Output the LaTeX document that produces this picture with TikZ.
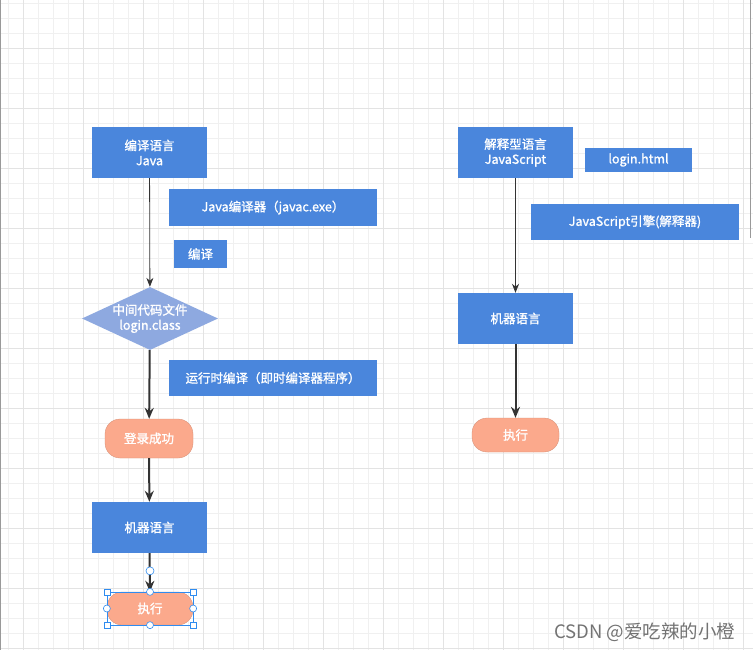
\documentclass[tikz,border=0pt]{standalone}
\usepackage{fontspec}
\setmainfont{Noto Sans CJK SC}
\newfontfamily\boxfont{Noto Sans CJK SC}[FakeBold=1.2]
\usetikzlibrary{shapes.geometric,arrows.meta,calc}
\definecolor{boxblue}{HTML}{4A86DC}
\definecolor{diablue}{HTML}{8EA9E0}
\definecolor{salmon}{HTML}{FBA98C}
\definecolor{handle}{HTML}{2F8CF0}
\tikzset{
  box/.style={fill=boxblue, text=white, minimum width=#1, inner sep=0pt, align=center, font=\boxfont\fontsize{12.5}{15}\selectfont},
  term/.style={fill=salmon, draw=salmon!85!black, line width=.3pt, text=white, rounded corners=15pt, inner sep=0pt, font=\boxfont\fontsize{12.5}{15}\selectfont},
  thin arrow/.style={-{Stealth[length=9pt,width=7pt]}, line width=.8pt, draw=black!80},
  thick arrow/.style={-{Stealth[length=11pt,width=9pt]}, line width=2pt, draw=black!80},
  hdl/.style={draw=handle, fill=white, line width=.6pt},
}
\begin{document}
\begin{tikzpicture}[x=1pt,y=-1pt]
\useasboundingbox (0,0) rectangle (753,650);
\fill[white] (0,0) rectangle (753,650);
\foreach \x in {8,23,...,753} \draw[black!6, line width=.6pt] (\x,0) -- (\x,650);
\foreach \y in {3,18,...,650} \draw[black!6, line width=.6pt] (0,\y) -- (753,\y);
\foreach \x in {23,83,...,753} \draw[black!11, line width=.6pt] (\x,0) -- (\x,650);
\foreach \y in {48,108,...,650} \draw[black!11, line width=.6pt] (0,\y) -- (753,\y);
\draw[black!40, line width=1pt] (0.5,0) -- (0.5,650);
\draw[black!40, line width=1pt] (750,0) -- (750,238);

% left column
\node[box=115pt, minimum height=51pt] (java) at (149.5,152.5) {编译语言\\Java};
\node[box=208pt, minimum height=37pt] (javac) at (273,207.5) {Java编译器（javac.exe）};
\node[box=53pt, minimum height=28pt] (compile) at (200.5,254) {编译};
\node[diamond, aspect=2.16, fill=diablue, text=white, minimum width=136pt, minimum height=63pt, inner xsep=-2pt, inner ysep=-6pt, align=center, font=\boxfont\fontsize{12.5}{15}\selectfont] (class) at (150,318.5) {中间代码文件\\login.class};
\node[box=208pt, minimum height=36pt] (jit) at (273,378) {运行时编译（即时编译器程序）};
\node[term, minimum width=88pt, minimum height=39pt] (login) at (149,438.5) {登录成功};
\node[box=115pt, minimum height=51pt] (mach) at (149.5,527.5) {机器语言};
\node[term, minimum width=86pt, minimum height=33pt] (run) at (150,608.5) {执行};

% right column
\node[box=115pt, minimum height=51pt] (js) at (515.5,152.5) {解释型语言\\JavaScript};
\node[box=107pt, minimum height=24pt] (html) at (638.5,160) {login.html};
\node[box=208pt, minimum height=36pt] (engine) at (635,222) {JavaScript引擎(解释器)};
\node[box=115pt, minimum height=51pt] (mach2) at (515.5,318.5) {机器语言};
\node[term, minimum width=87pt, minimum height=34pt] (run2) at (515.5,435) {执行};

\draw[thin arrow] (java) -- (class);
\draw[thick arrow] (class) -- (login);
\draw[thick arrow] (login) -- (mach);
\draw[thick arrow] (mach) -- (run);
\draw[thin arrow] (js) -- (mach2);
\draw[thick arrow] (mach2) -- (run2);

% selection handles
\draw[handle, line width=.5pt] (run.north west) rectangle (run.south east);
\foreach \a in {north west,north east,south west,south east}
  \draw[hdl] ($(run.\a)+(-3,-3)$) rectangle ($(run.\a)+(3,3)$);
\foreach \a in {north,south,east,west} \draw[hdl] (run.\a) circle(3.5pt);
\draw[hdl] ($(run.north)+(0,-21)$) circle(4pt);

\node[text=black!55, font=\fontsize{18.5}{20}\selectfont, anchor=east] (mark) at (739,632) {CSDN @爱吃辣的小橙};
\end{tikzpicture}
\end{document}
